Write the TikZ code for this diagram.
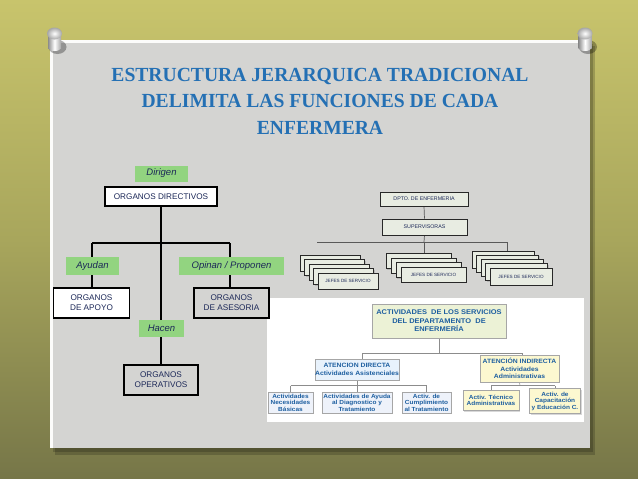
\documentclass[tikz,border=0pt]{standalone}
\usepackage{fontspec}
\setmainfont{Liberation Serif}
\setsansfont{Liberation Sans}
\newfontfamily\actfont[FakeStretch=1.1]{Liberation Sans}
\newfontfamily\ttlfont[FakeStretch=0.98]{Liberation Serif}
\usetikzlibrary{shadows}
\pgfdeclarelayer{bg}
\pgfdeclarelayer{ln}
\pgfsetlayers{bg,ln,main}
\definecolor{navy}{RGB}{28,40,88}
\definecolor{ttl}{RGB}{36,112,180}
\definecolor{grn}{RGB}{146,212,128}
\definecolor{panel}{RGB}{212,212,210}
\definecolor{actblue}{RGB}{30,95,160}
\definecolor{bgtop}{RGB}{200,196,108}
\definecolor{bgmid}{RGB}{168,166,92}
\definecolor{bgbot}{RGB}{118,118,72}
\definecolor{jfill}{RGB}{232,236,226}
\definecolor{jline}{RGB}{40,40,40}
\definecolor{acttop}{RGB}{236,242,214}
\definecolor{dirfill}{RGB}{232,242,252}
\definecolor{indfill}{RGB}{252,248,208}
\definecolor{bfill}{RGB}{238,242,250}
\definecolor{actline}{RGB}{140,140,140}
\tikzset{
  sz/.style 2 args={minimum width=#1pt, minimum height=#2pt},
  lbl/.style={fill=grn, text=navy, font=\sffamily\itshape\fontsize{9.5}{10}\selectfont, inner sep=0pt},
  org/.style={draw=black, line width=1.8pt, text=navy, align=center, inner sep=0pt,
    font=\sffamily\fontsize{8.2}{9.8}\selectfont},
  orgw/.style={org, fill=white},
  orgg/.style={org, fill=panel},
  tline/.style={line width=2pt, black},
  jbox/.style={draw=jline, line width=0.6pt, fill=jfill, inner sep=0pt, text=navy,
    font=\sffamily\fontsize{4.6}{5.5}\selectfont,
    drop shadow={shadow xshift=1pt, shadow yshift=-1pt, opacity=0.35}},
  rline/.style={line width=0.7pt, black!65},
  abox/.style={draw=black!35, line width=0.5pt, text=actblue, align=center, inner sep=0pt,
    font=\actfont\bfseries\fontsize{5.9}{6.5}\selectfont,
    drop shadow={shadow xshift=1.2pt, shadow yshift=-1.2pt, opacity=0.3}},
  aline/.style={line width=0.6pt, actline},
}
\begin{document}
\begin{tikzpicture}[x=1pt,y=-1pt]
\useasboundingbox (0,0) rectangle (638,479);
\begin{pgfonlayer}{bg}
  % background
  \shade[top color=bgtop, bottom color=bgbot, middle color=bgmid] (0,0) rectangle (638,479);
  % panel shadow
  \fill[black, opacity=0.18] (55,46) rectangle (595,455);
  \fill[black, opacity=0.18] (53,44) rectangle (593,452);
  % panel
  \fill[white!92!panel] (50,40) rectangle (590,448);
  \fill[panel] (52.5,42.5) rectangle (590,448);
  % white activities panel
  \fill[white] (267,298) rectangle (584,422);
  % pins
  \foreach \px in {54.5,585} {
    \fill[black, opacity=0.3] (\px+3,47) ellipse (9 and 7);
    \shade[left color=black!45, right color=black!35, middle color=white] (\px-6.5,34) rectangle (\px+6.5,48);
    \shade[left color=black!45, right color=black!35, middle color=white] (\px,48) ellipse (6.5 and 3);
    \shade[inner color=white, outer color=black!35] (\px,33.5) ellipse (7.5 and 6);
  }
\end{pgfonlayer}

% title
\node[font=\ttlfont\bfseries\fontsize{20}{26.5}\selectfont, text=ttl, align=center] (title) at (320,101)
  {ESTRUCTURA JERARQUICA TRADICIONAL\\DELIMITA LAS FUNCIONES DE CADA\\ENFERMERA};

% ---------- left tree ----------
\node[lbl, sz={53}{16}] (dirigen) at (161.5,173.5) {Dirigen};
\node[orgw, sz={112}{19}] (dir) at (161,196.5) {ORGANOS DIRECTIVOS};
\node[lbl, sz={53}{18}] (ayudan) at (92.5,266) {Ayudan};
\node[orgw, sz={76}{30}] (apoyo) at (91.5,303) {ORGANOS\\DE APOYO};
\node[lbl, sz={105}{18}] (opinan) at (231.5,266) {Opinan / Proponen};
\node[orgg, sz={75}{30}] (ases) at (231.5,303) {ORGANOS\\DE ASESORIA};
\node[lbl, sz={45}{17}] (hacen) at (161.5,328.5) {Hacen};
\node[orgg, sz={74}{30}] (oper) at (161,380) {ORGANOS\\OPERATIVOS};
\coordinate (hl) at (92,243);
\coordinate (hr) at (230,243);
\coordinate (hm) at (161,243);
\begin{pgfonlayer}{ln}
  \draw[tline] (dir.south) -- (oper.north);
  \draw[tline] (hl) -- (hr);
  \draw[tline] (hl) -- (hl |- apoyo.north);
  \draw[tline] (hr) -- (hr |- ases.north);
\end{pgfonlayer}

% ---------- right upper tree ----------
\node[jbox, sz={88}{14}, font=\sffamily\fontsize{5.3}{6}\selectfont] (dpto) at (424,199) {DPTO. DE ENFERMERIA};
\node[jbox, sz={85}{16}, font=\sffamily\fontsize{5.3}{6}\selectfont] (sup) at (424.5,227) {SUPERVISORAS};
% left group
\foreach \i in {4,3,2,1} \node[jbox, sz={60}{16}] (L\i) at ({348-4.5*\i},{281-4.5*\i}) {};
\node[jbox, sz={60}{16}] (L0) at (348,281) {JEFES DE SERVICIO};
% middle group
\foreach \i in {3,2,1} \node[jbox, sz={65}{15}] (M\i) at ({433.5-5*\i},{274.5-4.5*\i}) {};
\node[jbox, sz={65}{15}] (M0) at (433.5,274.5) {JEFES DE SERVICIO};
% right group
\foreach \i in {4,3,2,1} \node[jbox, sz={62}{17}] (R\i) at ({521-4.5*\i},{276.5-4.3*\i}) {};
\node[jbox, sz={62}{17}] (R0) at (521,276.5) {JEFES DE SERVICIO};
\coordinate (jl) at (317,242);
\coordinate (jm) at (424,242);
\coordinate (jr) at (507,242);
\begin{pgfonlayer}{ln}
  \draw[rline] (dpto.south) -- (sup.north);
  \draw[rline] (sup.south) -- (jm);
  \draw[rline] (jl) -- (jr);
  \draw[rline] (jm) -- (jm |- M3.north);
  \draw[rline] (jr) -- (jr |- R4.north);
\end{pgfonlayer}

% ---------- activities tree ----------
\node[abox, fill=acttop, sz={134}{34}, font=\actfont\bfseries\fontsize{6.8}{8.4}\selectfont] (act) at (439,321)
  {ACTIVIDADES \ DE LOS SERVICIOS\\DEL DEPARTAMENTO \ DE\\ENFERMERÍA};
\node[abox, fill=dirfill, sz={84}{21}, font=\actfont\bfseries\fontsize{6.2}{7.8}\selectfont] (adir) at (357,369.5)
  {ATENCION DIRECTA\\Actividades Asistenciales};
\node[abox, fill=indfill, sz={79}{27}, font=\actfont\bfseries\fontsize{6.2}{7.6}\selectfont] (aind) at (519.5,368.5)
  {ATENCIÓN INDIRECTA\\Actividades\\Administrativas};
\node[abox, fill=bfill, sz={45}{21}] (b1) at (290.5,402.5) {Actividades\\Necesidades\\Básicas};
\node[abox, fill=bfill, sz={70}{21}] (b2) at (357,402.5) {Actividades de Ayuda\\al Diagnostico y\\Tratamiento};
\node[abox, fill=bfill, sz={49}{21}] (b3) at (426.5,402.5) {Activ. de\\Cumplimiento\\al Tratamiento};
\node[abox, fill=indfill, sz={56}{20}] (c1) at (491,400.5) {Activ. Técnico\\Administrativas};
\node[abox, fill=indfill, sz={51}{25}] (c2) at (555,401) {Activ. de\\Capacitación\\y Educación C.};
\coordinate (a1) at (439,353);
\coordinate (a1l) at (362,353);
\coordinate (a1r) at (522,353);
\coordinate (a2) at (357,385.5);
\coordinate (a2l) at (290.5,385.5);
\coordinate (a2r) at (426.5,385.5);
\coordinate (a3) at (520,385.5);
\coordinate (a3l) at (491,385.5);
\coordinate (a3r) at (555,385.5);
\begin{pgfonlayer}{ln}
  \draw[aline] (act.south) -- (a1);
  \draw[aline] (a1l) -- (a1r);
  \draw[aline] (a1l) -- (a1l |- adir.north);
  \draw[aline] (a1r) -- (a1r |- aind.north);
  \draw[aline] (adir.south) -- (a2);
  \draw[aline] (a2l) -- (a2r);
  \draw[aline] (a2l) -- (b1.north);
  \draw[aline] (a2) -- (b2.north);
  \draw[aline] (a2r) -- (b3.north);
  \draw[aline] (aind.south) -- (a3);
  \draw[aline] (a3l) -- (a3r);
  \draw[aline] (a3l) -- (c1.north);
  \draw[aline] (a3r) -- (c2.north);
\end{pgfonlayer}
\end{tikzpicture}
\end{document}
